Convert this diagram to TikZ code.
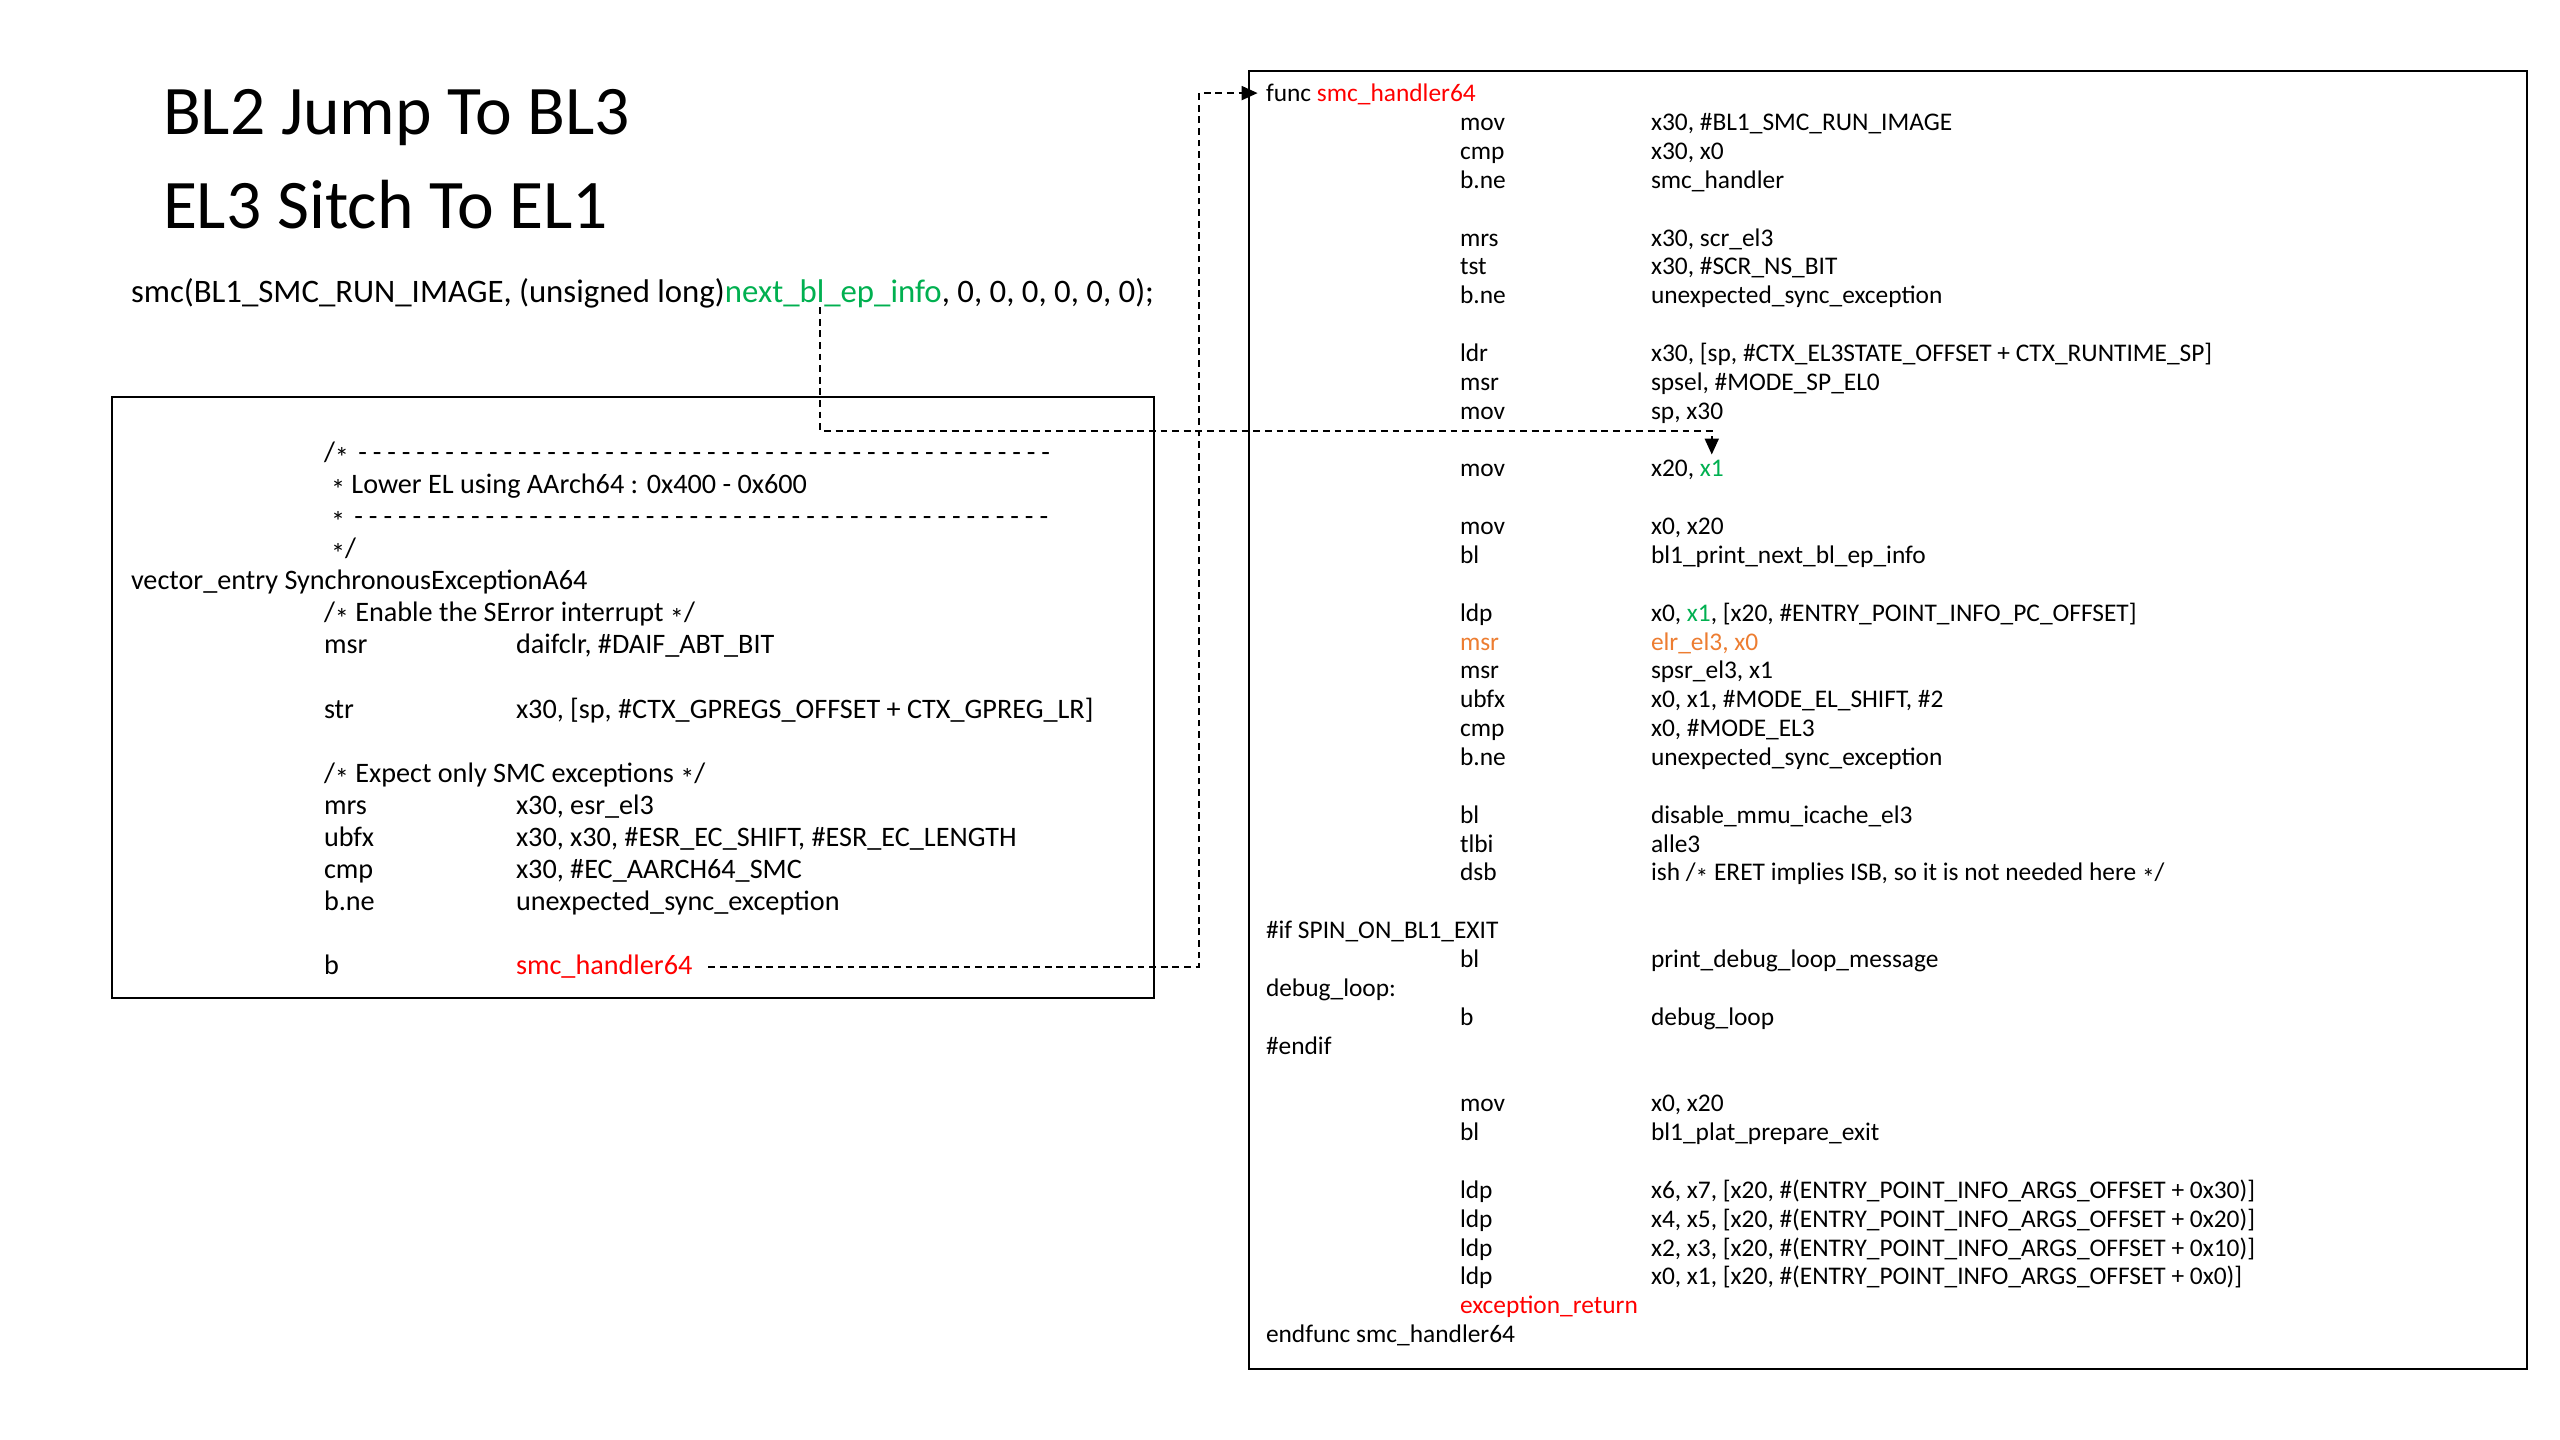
\documentclass[tikz,border=0pt]{standalone}
\usepackage{fontspec}
\setmainfont{Carlito}
\usetikzlibrary{arrows.meta}
\definecolor{cred}{HTML}{FF0000}
\definecolor{cgreen}{HTML}{00B050}
\definecolor{corange}{HTML}{ED7D31}
\newcommand\dashfill[1]{\hbox to #1{\xleaders\hbox to 7.25pt{\hss-\hss}\hfill}}
\newcommand\lowstar{\raisebox{-0.22em}{*}}
\newcommand\ry[1]{101.7+28.86*#1}
\newcommand\ly[1]{461.6+32.05*#1}
\begin{document}
\begin{tikzpicture}[x=0.5pt,y=-0.5pt,
 base/.style={anchor=base west,inner sep=0pt,outer sep=0pt},
 rtxt/.style={base,font=\fontsize{12.7}{15}\selectfont},
 ltxt/.style={base,font=\fontsize{14.1}{17}\selectfont},
 ttl/.style={base,font=\fontsize{34.8}{40}\selectfont},
 stxt/.style={base,font=\fontsize{16.4}{19}\selectfont},
 frame/.style={draw=black,line width=1.1pt,inner sep=0pt,anchor=north west},
 conn/.style={draw=black,line width=1pt,dash pattern=on 3.4pt off 2.4pt},
 tip/.style={-{Triangle[length=8pt,width=7pt]}}]
\useasboundingbox (0,0) rectangle (2560,1440);
\fill[white] (0,0) rectangle (2560,1440);
% titles
\node[ttl] (t1) at (163,134) {BL2 Jump To BL3};
\node[ttl] (t2) at (163,228) {EL3 Sitch To EL1};
% smc call
\node[stxt] (smc1) at (131,302) {smc(BL1\_SMC\_RUN\_IMAGE, (unsigned long)};
\node[stxt,text=cgreen] (nextbl) at (smc1.base east) {next\_bl\_ep\_info};
\node[stxt] (smc3) at (nextbl.base east) {, 0, 0, 0, 0, 0, 0);};
% boxes
\node[frame,minimum width=521pt,minimum height=300.5pt] (lbox) at (111,396) {};
\node[frame,minimum width=639pt,minimum height=649pt] (rbox) at (1248,70) {};
% left box text
\node[ltxt] (l0) at (324,{\ly{0}}) {/\lowstar{} \dashfill{349pt}};
\node[ltxt] (l1) at (331,{\ly{1}}) {\lowstar{} Lower EL using AArch64 : 0x400 - 0x600};
\node[ltxt] (l2) at (331,{\ly{2}}) {\lowstar{} \dashfill{350pt}};
\node[ltxt] (l3) at (331,{\ly{3}}) {\lowstar/};
\node[ltxt] (l4) at (131,{\ly{4}}) {vector\_entry SynchronousExceptionA64};
\node[ltxt] (l5) at (324,{\ly{5}}) {/\lowstar{} Enable the SError interrupt \lowstar/};
\node[ltxt] (l6m) at (324,{\ly{6}}) {msr};
\node[ltxt] (l6o) at (516,{\ly{6}}) {daifclr, \#DAIF\_ABT\_BIT};
\node[ltxt] (l8m) at (324,{\ly{8}}) {str};
\node[ltxt] (l8o) at (516,{\ly{8}}) {x30, [sp, \#CTX\_GPREGS\_OFFSET + CTX\_GPREG\_LR]};
\node[ltxt] (l10) at (324,{\ly{10}}) {/\lowstar{} Expect only SMC exceptions \lowstar/};
\node[ltxt] (l11m) at (324,{\ly{11}}) {mrs};
\node[ltxt] (l11o) at (516,{\ly{11}}) {x30, esr\_el3};
\node[ltxt] (l12m) at (324,{\ly{12}}) {ubfx};
\node[ltxt] (l12o) at (516,{\ly{12}}) {x30, x30, \#ESR\_EC\_SHIFT, \#ESR\_EC\_LENGTH};
\node[ltxt] (l13m) at (324,{\ly{13}}) {cmp};
\node[ltxt] (l13o) at (516,{\ly{13}}) {x30, \#EC\_AARCH64\_SMC};
\node[ltxt] (l14m) at (324,{\ly{14}}) {b.ne};
\node[ltxt] (l14o) at (516,{\ly{14}}) {unexpected\_sync\_exception};
\node[ltxt] (l16m) at (324,{\ly{16}}) {b};
\node[ltxt,text=cred] (smcred) at (516,{\ly{16}}) {smc\_handler64};
% right box text
\node[rtxt] (func) at (1266,{\ry{0}}) {func\ \null};
\node[rtxt,text=cred] (funcname) at (func.base east) {smc\_handler64};
\newcommand\rrow[3]{%
 \node[rtxt] (rm#1) at (1460,{\ry{#1}}) {#2};
 \node[rtxt] (ro#1) at (1651,{\ry{#1}}) {#3};}
\rrow{1}{mov}{x30, \#BL1\_SMC\_RUN\_IMAGE}
\rrow{2}{cmp}{x30, x0}
\rrow{3}{b.ne}{smc\_handler}
\rrow{5}{mrs}{x30, scr\_el3}
\rrow{6}{tst}{x30, \#SCR\_NS\_BIT}
\rrow{7}{b.ne}{unexpected\_sync\_exception}
\rrow{9}{ldr}{x30, [sp, \#CTX\_EL3STATE\_OFFSET + CTX\_RUNTIME\_SP]}
\rrow{10}{msr}{spsel, \#MODE\_SP\_EL0}
\rrow{11}{mov}{sp, x30}
\rrow{13}{mov}{x20,\ \null}
\node[rtxt,text=cgreen] (x1a) at (ro13.base east) {x1};
\rrow{15}{mov}{x0, x20}
\rrow{16}{bl}{bl1\_print\_next\_bl\_ep\_info}
\rrow{18}{ldp}{x0,\ \null}
\node[rtxt,text=cgreen] (x1b) at (ro18.base east) {x1};
\node[rtxt] (ro18b) at (x1b.base east) {, [x20, \#ENTRY\_POINT\_INFO\_PC\_OFFSET]};
\node[rtxt,text=corange] (rm19) at (1460,{\ry{19}}) {msr};
\node[rtxt,text=corange] (ro19) at (1651,{\ry{19}}) {elr\_el3, x0};
\rrow{20}{msr}{spsr\_el3, x1}
\rrow{21}{ubfx}{x0, x1, \#MODE\_EL\_SHIFT, \#2}
\rrow{22}{cmp}{x0, \#MODE\_EL3}
\rrow{23}{b.ne}{unexpected\_sync\_exception}
\rrow{25}{bl}{disable\_mmu\_icache\_el3}
\rrow{26}{tlbi}{alle3}
\rrow{27}{dsb}{ish /\lowstar{} ERET implies ISB, so it is not needed here \lowstar/}
\node[rtxt] (r29) at (1266,{\ry{29}}) {\#if SPIN\_ON\_BL1\_EXIT};
\rrow{30}{bl}{print\_debug\_loop\_message}
\node[rtxt] (r31) at (1266,{\ry{31}}) {debug\_loop:};
\rrow{32}{b}{debug\_loop}
\node[rtxt] (r33) at (1266,{\ry{33}}) {\#endif};
\rrow{35}{mov}{x0, x20}
\rrow{36}{bl}{bl1\_plat\_prepare\_exit}
\rrow{38}{ldp}{x6, x7, [x20, \#(ENTRY\_POINT\_INFO\_ARGS\_OFFSET + 0x30)]}
\rrow{39}{ldp}{x4, x5, [x20, \#(ENTRY\_POINT\_INFO\_ARGS\_OFFSET + 0x20)]}
\rrow{40}{ldp}{x2, x3, [x20, \#(ENTRY\_POINT\_INFO\_ARGS\_OFFSET + 0x10)]}
\rrow{41}{ldp}{x0, x1, [x20, \#(ENTRY\_POINT\_INFO\_ARGS\_OFFSET + 0x0)]}
\node[rtxt,text=cred] (r42) at (1460,{\ry{42}}) {exception\_return};
\node[rtxt] (r43) at (1266,{\ry{43}}) {endfunc smc\_handler64};
% connectors
\draw[conn,tip,shorten >=4.2pt] ([xshift=8pt]smcred.east) -| ([xshift=-33.5pt]func.west) -- (func.west);
\draw[conn,tip,shorten >=3pt] ([xshift=-6.8pt]nextbl.south) |- ([yshift=15pt]x1a.north) -- (x1a.north);
\end{tikzpicture}
\end{document}
